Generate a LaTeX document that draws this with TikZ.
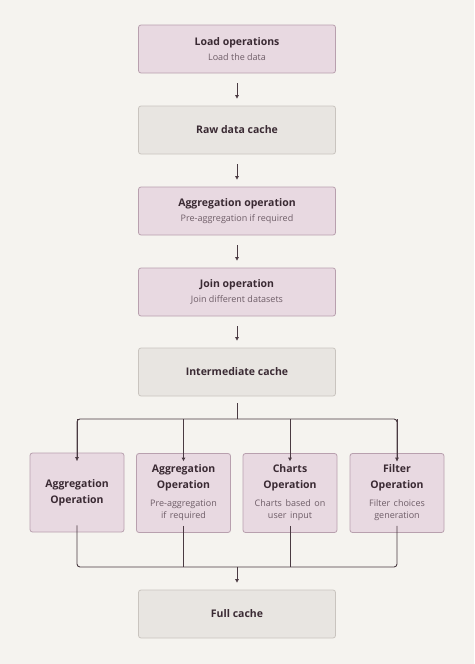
\documentclass[tikz,border=0pt]{standalone}
\usepackage{fontspec}
\setmainfont{Open Sans}
\usetikzlibrary{arrows.meta}
\definecolor{bg}{HTML}{F5F3EF}
\definecolor{pinkfill}{HTML}{E8D9E1}
\definecolor{pinkdraw}{HTML}{B8A0AE}
\definecolor{grayfill}{HTML}{E8E5E1}
\definecolor{graydraw}{HTML}{C9C4BF}
\definecolor{titlecol}{HTML}{3A2A33}
\definecolor{subcol}{HTML}{6E5D67}
\definecolor{linecol}{HTML}{4A3A42}
\tikzset{
  x=1pt, y=-1pt,
  boxbase/.style={rounded corners=2.5pt, line width=0.8pt, align=center, inner sep=0pt, font=\fontsize{10.5}{16}\selectfont},
  opbox/.style={boxbase, draw=pinkdraw, fill=pinkfill},
  cachebox/.style={boxbase, draw=graydraw, fill=grayfill},
  wide/.style={minimum width=197pt, minimum height=48pt},
  narrow/.style={minimum width=94pt, minimum height=79pt, text width=90pt},
  conn/.style={draw=linecol, line width=0.9pt},
  arr/.style={conn, -{Triangle[length=3.5pt,width=3.5pt]}},
}
\newcommand{\ttl}[1]{{\fontsize{10.5}{16}\selectfont\bfseries\color{titlecol}#1}}
\newcommand{\sbt}[1]{{\fontsize{9}{12}\selectfont\color{subcol}#1}}
\begin{document}
\begin{tikzpicture}
\fill[bg] (0,0) rectangle (474,664);
\useasboundingbox (0,0) rectangle (474,664);
\node[opbox,wide] (load) at (237,49) {\ttl{Load operations}\\[-1pt]\sbt{Load the data}};
\node[cachebox,wide] (raw) at (237,130) {\ttl{Raw data cache}};
\node[opbox,wide] (agg) at (237,211) {\ttl{Aggregation operation}\\[-1pt]\sbt{Pre-aggregation if required}};
\node[opbox,wide] (join) at (237,292) {\ttl{Join operation}\\[-1pt]\sbt{Join different datasets}};
\node[cachebox,wide] (inter) at (237,372) {\ttl{Intermediate cache}};
\node[opbox,narrow] (b1) at (77,492.5) {\ttl{Aggregation}\\\ttl{Operation}};
\node[opbox,narrow] (b2) at (183.5,493) {\ttl{Aggregation}\\\ttl{Operation}\\[1.5pt]\sbt{Pre-aggregation}\\[-3.5pt]\sbt{if required}};
\node[opbox,narrow] (b3) at (290,493) {\ttl{Charts}\\\ttl{Operation}\\[1.5pt]\sbt{Charts based on}\\[-3.5pt]\sbt{user input}};
\node[opbox,narrow] (b4) at (397,493) {\ttl{Filter}\\\ttl{Operation}\\[1.5pt]\sbt{Filter choices}\\[-3.5pt]\sbt{generation}};
\node[cachebox,wide] (full) at (237,614) {\ttl{Full cache}};

\draw[arr] ([yshift=-10pt]load.south) -- ([yshift=7pt]raw.north);
\draw[arr] ([yshift=-10pt]raw.south) -- ([yshift=7pt]agg.north);
\draw[arr] ([yshift=-10pt]agg.south) -- ([yshift=7pt]join.north);
\draw[arr] ([yshift=-10pt]join.south) -- ([yshift=7pt]inter.north);

\coordinate (split) at (237,419);
\draw[conn] ([yshift=-7pt]inter.south) -- (split);
\draw[conn,rounded corners=3pt] ([yshift=-8pt]b1.north) |- (split);
\draw[conn,rounded corners=3pt] ([yshift=-8pt]b4.north) |- (split);
\draw[arr] (b1.north |- split) -- ([yshift=-8pt]b1.north);
\draw[arr] (b2.north |- split) -- ([yshift=-8pt]b2.north);
\draw[arr] (b3.north |- split) -- ([yshift=-8pt]b3.north);
\draw[arr] (b4.north |- split) -- ([yshift=-8pt]b4.north);

\coordinate (merge) at (237,567);
\draw[conn,rounded corners=3pt] ([yshift=7pt]b1.south) |- (merge);
\draw[conn,rounded corners=3pt] ([yshift=7pt]b4.south) |- (merge);
\draw[conn] ([yshift=7pt]b2.south) -- (b2.south |- merge);
\draw[conn] ([yshift=7pt]b3.south) -- (b3.south |- merge);
\draw[arr] (merge) -- ([yshift=7pt]full.north);
\end{tikzpicture}
\end{document}
